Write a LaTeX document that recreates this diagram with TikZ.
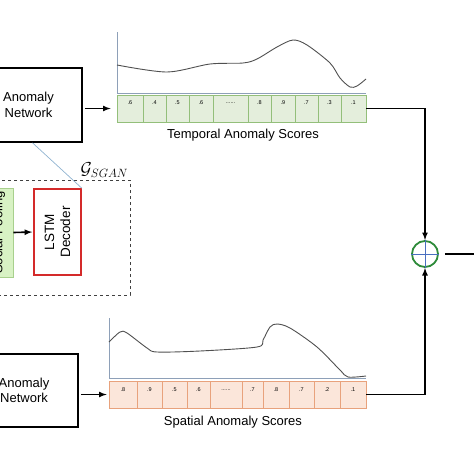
\documentclass[tikz,border=0pt]{standalone}
\usepackage{fontspec}
\setmainfont{Liberation Sans}
\definecolor{tgreen}{HTML}{E4EEDC}
\definecolor{tgreenline}{HTML}{93BF7A}
\definecolor{sorange}{HTML}{FBE6DA}
\definecolor{sorangeline}{HTML}{E8A27C}
\definecolor{axisgray}{HTML}{8EA0B8}
\definecolor{curvegray}{HTML}{505050}
\definecolor{lstmred}{HTML}{D42A2A}
\definecolor{poolfill}{HTML}{D8F2C4}
\definecolor{poolline}{HTML}{A8D08D}
\definecolor{sumgreen}{HTML}{2E8B3A}
\definecolor{crossblue}{HTML}{4A6FC0}
\definecolor{thinblue}{HTML}{8FB3D0}
\definecolor{dashgray}{HTML}{404040}
\newcommand{\gapdots}{......}
\begin{document}
\begin{tikzpicture}[x=1pt,y=-1pt,
    netbox/.style={draw,line width=1.6pt,minimum width=107pt,minimum height=74pt,align=center,font=\fontsize{13}{15.5}\selectfont},
    tcell/.style={draw=tgreenline,fill=tgreen,line width=0.8pt,minimum height=27pt,inner sep=0pt},
    scell/.style={draw=sorangeline,fill=sorange,line width=0.8pt,minimum height=27pt,inner sep=0pt},
    score/.style={font=\fontsize{5.5}{6}\selectfont,inner sep=0pt},
    caption/.style={font=\fontsize{13}{15}\selectfont},
    axisline/.style={draw=axisgray,line width=0.6pt},
    curve/.style={draw=curvegray,line width=0.9pt},
    link/.style={line width=1.6pt,-latex}]
      \useasboundingbox (0,0) rectangle (474,474);
      \node[netbox] (tnet) at (28.5,105) {Anomaly\\Network};
      \node[netbox,minimum width=108pt,minimum height=73pt] (snet) at (24,390.5) {Anomaly\\Network};
      \foreach \a/\b/\v [count=\i] in {117/143/.6,143/166/.4,166/189/.5,189/213/.6,213/248/\gapdots,248/271/.8,271/295/.9,295/318/.7,318/341/.3,341/366/.1}{
        \node[tcell,minimum width={\b-\a}] (t\i) at ({(\a+\b)/2},108.5) {};
        \node[score] at ({(\a+\b)/2},103) {\v};
      }
      \foreach \a/\b/\v [count=\i] in {109/137/.8,137/162/.9,162/187/.5,187/210/.6,210/242/\gapdots,242/263/.7,263/289/.8,289/314/.7,314/340/.2,340/366/.1}{
        \node[scell,minimum width={\b-\a}] (s\i) at ({(\a+\b)/2},394.5) {};
        \node[score] at ({(\a+\b)/2},390) {\v};
      }
      \node[caption] (tcap) at (243,135) {Temporal Anomaly Scores};
      \node[caption] (scap) at (233,422) {Spatial Anomaly Scores};
      \draw[axisline] (117,32) -- (117,93) -- (366,93);
      \draw[curve] plot[smooth] coordinates {(117,65) (167,72) (210,64) (243,63) (257,59) (277,47) (293,40) (307,45) (330,63) (340,78) (350,87) (357,86) (366,79)};
      \draw[axisline] (109,318) -- (109,378) -- (366,378);
      \draw[curve] plot[smooth] coordinates {(109,342) (120,332) (127,333) (147,348) (157,352) (200,351) (257,347) (263,340) (270,327) (277,324) (290,328) (317,347) (340,370) (348,377) (366,376)};
      \node[draw=sumgreen,line width=1.8pt,circle,minimum size=26pt,inner sep=0pt] (sum) at (425,254) {};
      \draw[crossblue,line width=0.6pt] (sum.north) -- (sum.south) (sum.west) -- (sum.east);
      \coordinate (out) at (474,254);
      \draw[link] (t10.east) -| (sum.north);
      \draw[link] (s10.east) -| (sum.south);
      \draw[line width=1.6pt,shorten <=6pt] (sum.east) -- (out);
      \draw[link,shorten <=2pt,shorten >=6pt] (tnet.east |- t1.west) -- (t1.west);
      \draw[link,shorten <=2pt,shorten >=2pt] (snet.east |- s1.west) -- (s1.west);
      \node[draw=dashgray,dashed,line width=0.6pt,minimum width=150pt,minimum height=115pt] (sgan) at (55,237.5) {};
      \node[anchor=south east,inner sep=2pt,font=\fontsize{17}{19}\selectfont] (glabel) at (sgan.north east) {$\mathcal{G}_{SGAN}$};
      \node[draw=lstmred,line width=1.6pt,fill=white,rotate=90,minimum width=86pt,minimum height=47pt,align=center,font=\fontsize{13.5}{16}\selectfont] (lstm) at (57.5,232) {LSTM\\Decoder};
      \node[draw=poolline,fill=poolfill,line width=0.8pt,rotate=90,minimum width=89pt,minimum height=28pt,font=\fontsize{13}{15}\selectfont] (pool) at (-1,232.5) {Social Pooling};
      \draw[link,shorten >=1pt] (pool.south) -- (lstm.north);
      \draw[thinblue,line width=0.7pt] ([xshift=4pt]tnet.south) -- (lstm.south east);
    \end{tikzpicture}
\end{document}
